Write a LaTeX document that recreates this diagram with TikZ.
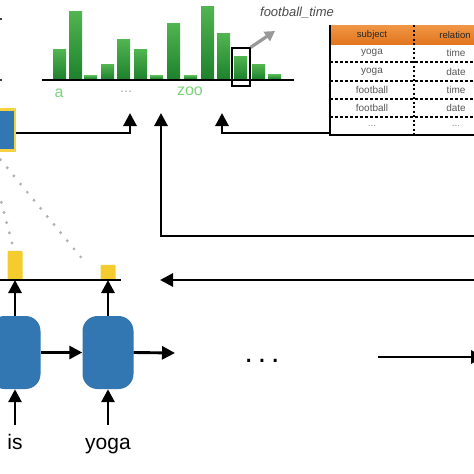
\documentclass[tikz,border=0pt]{standalone}
\usepackage{fontspec}
\setmainfont{Liberation Sans}
\usetikzlibrary{arrows.meta}

\definecolor{cellblue}{RGB}{50,118,178}
\definecolor{attnyellow}{RGB}{245,204,45}
\definecolor{bartop}{RGB}{80,180,80}
\definecolor{barbot}{RGB}{30,130,45}
\definecolor{wordgreen}{RGB}{125,212,125}
\definecolor{headtop}{RGB}{240,150,70}
\definecolor{headbot}{RGB}{226,118,30}

\begin{document}
\begin{tikzpicture}[x=1pt, y=-1pt,
	arr/.style = { line width=2.9pt, -{Triangle[length=13pt, width=13pt]} },
	grayarr/.style = { line width=3.2pt, draw=gray!80, -{Triangle[length=10pt, width=11pt]} },
	bar/.style = { rectangle, draw=none, top color=bartop, bottom color=barbot,
	minimum width=13pt, inner sep=0pt, anchor=south },
	ybar/.style = { rectangle, fill=attnyellow, minimum width=15pt, inner sep=0pt,
	anchor=south, rounded corners=1pt },
	cell/.style = { rectangle, rounded corners=15pt, fill=cellblue,
	minimum width=51pt, minimum height=73pt },
	word/.style = { font=\fontsize{21}{24}\selectfont, text height=15pt,
	inner ysep=9pt, anchor=base },
	vocab/.style = { font=\fontsize{16}{18}\selectfont, text=wordgreen },
	cellt/.style = { font=\fontsize{10}{12}\selectfont, text=black!65 },
	dots/.style = { draw=gray!60, line width=3.2pt, line cap=round,
	dash pattern=on 0pt off 10.5pt } ]

  \clip (0,0) rectangle (474,474);
  \fill[white] (0,0) rectangle (474,474);

  % output distribution over the vocabulary
  \foreach \x/\h [count=\i] in {59.5/29, 75.5/67, 90.5/3, 107.5/14, 123.5/39,
	140.5/29, 156.5/3, 173.5/55, 190.5/3, 207.5/72, 223.5/45, 240.5/22,
	258.5/14, 274.5/4}
	\node [name=bar\i, bar, minimum height=\h] at (\x,79) {};
  \draw[line width=2.8pt] (42,80) -- (294,80);
  \node [name=wa, vocab] at (59,93) { a };
  \node [name=wdots, text=gray!80, font=\fontsize{13}{15}\selectfont] at (126,92) { \dots };
  \node [name=wzoo, vocab] at (190,91) { zoo };
  \node [name=sel, draw=black, line width=1.2pt, minimum width=18pt,
	minimum height=38pt, inner sep=0pt] at (241,67) {};
  \coordinate (ftend) at (275,31);
  \draw[grayarr] (sel.north east) -- (ftend);
  \node [name=ftime, text=black!70, font=\fontsize{13}{15}\selectfont\itshape]
	at (297,13) { football\_time };

  % knowledge table
  \fill[top color=headtop, bottom color=headbot] (330,25) rectangle (480,44);
  \foreach \y in {62,81,99,117}
	\draw[line width=1.3pt, dash pattern=on 3pt off 2pt] (330,\y) -- (480,\y);
  \draw[line width=1.4pt, dash pattern=on 2pt off 2.5pt] (414,25) -- (414,135);
  \draw[line width=1.8pt] (330,25) -- (330,135) -- (480,135);
  \node [name=hsubj, cellt, text=black!85, font=\fontsize{9.5}{11}\selectfont] at (372,35) { subject };
  \node [name=hrel, cellt, text=black!85, font=\fontsize{9.5}{11}\selectfont] at (455,35) { relation };
  \foreach \s/\r/\y [count=\i] in {yoga/time/53, yoga/date/71.5,
	football/time/90, football/date/108} {
	\node [name=subj\i, cellt] at (372,\y) { \s };
	\node [name=rel\i, cellt] at (456,\y) { \r };
  }
  \node [name=subj5, cellt, text=black!45] at (372,126) { ... };
  \node [name=rel5, cellt, text=black!45] at (456,126) { ... };

  % embedding and inputs to the output layer
  \node [name=emb, rectangle, fill=cellblue, draw=attnyellow!90!white,
	line width=2.2pt, minimum width=26pt, minimum height=41pt] at (2,130) {};
  \coordinate (inA) at (130,113);
  \coordinate (inB) at (161,113);
  \coordinate (inC) at (222,113);
  \coordinate (tabL) at (330,133);
  \coordinate (ctxR) at (480,236);
  \draw[arr] ([yshift=-3pt]emb.east) -| (inA);
  \draw[arr] (ctxR) -| (inB);
  \draw[arr] (tabL) -| (inC);

  % attention weights
  \node [name=yb1, ybar, minimum height=29pt] at (15,280) {};
  \node [name=yb2, ybar, minimum height=15pt] at (108,280) {};
  \draw[line width=2.8pt] (0,280) -- (121,280);
  \draw[dots] (emb.south west) -- ([xshift=-2pt,yshift=4pt]yb1.north);
  \draw[dots] ([xshift=6pt]emb.south west) -- ([xshift=-15pt,yshift=2pt]yb2.north west);
  \coordinate (attR) at (480,280);
  \coordinate (attL) at (160,280);
  \draw[arr] (attR) -- (attL);

  % encoder
  \node [name=cellA, cell] at (15,352.5) {};
  \node [name=cellB, cell] at (108,352.5) {};
  \coordinate (cellBout) at (175,353);
  \draw[arr] (cellA) -- (cellB);
  \draw[arr] (cellB.east) -- (cellBout);
  \draw[arr] (cellA.north) -- (yb1.south);
  \draw[arr] (cellB.north) -- (yb2.south);
  \node [name=wis, word] at (15,449) { is };
  \node [name=wyoga, word] at (108,449) { yoga };
  \draw[arr] (wis.north) -- (cellA.south);
  \draw[arr] (wyoga.north) -- (cellB.south);
  \node [name=skip, font=\fontsize{30}{32}\selectfont, anchor=base] at (262,362) { .\,.\,. };
  \coordinate (lastL) at (378,357);
  \coordinate (lastR) at (484,357);
  \draw[arr] (lastL) -- (lastR);

  % edges of cropped items
  \fill[black!75] (0,18) rectangle (2,20);
  \fill[black!75] (0,79) rectangle (2,81);
\end{tikzpicture}
\end{document}
